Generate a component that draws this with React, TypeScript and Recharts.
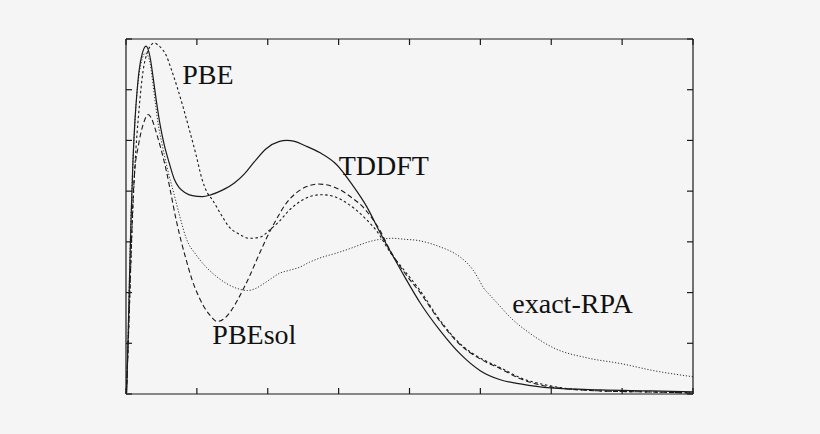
import { LineChart, Line, XAxis, YAxis, ReferenceDot } from "recharts";

// [x, y] pairs, x in 0..8, y in 0..7
const tddft: [number, number][] = [
  [0.007, 0.02], [0.014, 0.26], [0.042, 1.84], [0.071, 3.43], [0.099, 4.62], [0.127, 5.41],
  [0.156, 5.97], [0.184, 6.37], [0.227, 6.7], [0.283, 6.86], [0.34, 6.64], [0.382, 6.25],
  [0.425, 5.81], [0.481, 5.31], [0.538, 4.92], [0.609, 4.56], [0.68, 4.24], [0.75, 4.07],
  [0.835, 3.97], [0.935, 3.91], [1.076, 3.89], [1.204, 3.93], [1.345, 4.01], [1.529, 4.16],
  [1.671, 4.34], [1.812, 4.58], [1.982, 4.84], [2.166, 4.98], [2.266, 5.0], [2.38, 4.98],
  [2.52, 4.9], [2.733, 4.76], [2.973, 4.52], [3.2, 4.11], [3.398, 3.69], [3.582, 3.19],
  [3.766, 2.72], [3.936, 2.3], [4.149, 1.8], [4.432, 1.25], [4.715, 0.79], [4.998, 0.46],
  [5.281, 0.28], [5.565, 0.2], [5.989, 0.12], [6.697, 0.08], [7.405, 0.06], [8.0, 0.04],
];

const pbe: [number, number][] = [
  [0.007, 0.02], [0.042, 1.45], [0.085, 3.23], [0.127, 4.52], [0.184, 5.61], [0.241, 6.37],
  [0.297, 6.72], [0.354, 6.88], [0.396, 6.92], [0.453, 6.88], [0.51, 6.8], [0.566, 6.68],
  [0.637, 6.41], [0.722, 6.05], [0.807, 5.65], [0.892, 5.22], [0.991, 4.7], [1.076, 4.22],
  [1.147, 3.97], [1.218, 3.83], [1.345, 3.53], [1.458, 3.29], [1.6, 3.15], [1.742, 3.07],
  [1.883, 3.09], [2.025, 3.23], [2.166, 3.41], [2.308, 3.63], [2.45, 3.79], [2.591, 3.89],
  [2.761, 3.93], [2.945, 3.89], [3.087, 3.79], [3.228, 3.65], [3.37, 3.47], [3.54, 3.21],
  [3.724, 2.8], [3.936, 2.42], [4.149, 2.04], [4.432, 1.45], [4.715, 0.99], [4.998, 0.71],
  [5.281, 0.52], [5.565, 0.32], [5.989, 0.16], [6.697, 0.06], [7.405, 0.04], [8.0, 0.02],
];

const pbesol: [number, number][] = [
  [0.007, 0.02], [0.042, 1.45], [0.071, 2.74], [0.099, 3.83], [0.127, 4.46], [0.17, 4.86],
  [0.212, 5.16], [0.255, 5.37], [0.312, 5.51], [0.354, 5.45], [0.396, 5.3], [0.439, 5.1],
  [0.496, 4.82], [0.566, 4.42], [0.637, 3.93], [0.708, 3.43], [0.779, 3.01], [0.85, 2.64],
  [0.935, 2.24], [1.034, 1.9], [1.104, 1.71], [1.175, 1.57], [1.289, 1.43], [1.388, 1.49],
  [1.487, 1.65], [1.6, 1.92], [1.742, 2.32], [1.855, 2.68], [1.982, 3.07], [2.124, 3.45],
  [2.265, 3.77], [2.407, 3.97], [2.549, 4.09], [2.704, 4.14], [2.874, 4.11], [3.016, 4.03],
  [3.186, 3.87], [3.342, 3.69], [3.469, 3.47], [3.582, 3.23], [3.724, 2.84], [3.936, 2.38],
  [4.149, 2.0], [4.432, 1.43], [4.715, 0.97], [4.998, 0.69], [5.281, 0.5], [5.565, 0.3],
  [5.989, 0.14], [6.697, 0.06], [7.405, 0.04], [8.0, 0.02],
];

const exactRpa: [number, number][] = [
  [0.007, 0.02], [0.028, 1.05], [0.057, 2.84], [0.085, 4.12], [0.113, 5.02], [0.142, 5.71],
  [0.184, 6.29], [0.227, 6.6], [0.269, 6.72], [0.312, 6.66], [0.34, 6.52], [0.368, 6.25],
  [0.411, 5.77], [0.453, 5.33], [0.51, 4.92], [0.581, 4.46], [0.68, 3.93], [0.765, 3.47],
  [0.85, 3.07], [0.991, 2.74], [1.133, 2.5], [1.274, 2.32], [1.416, 2.18], [1.572, 2.08],
  [1.713, 2.04], [1.827, 2.08], [1.926, 2.16], [2.053, 2.28], [2.166, 2.38], [2.308, 2.44],
  [2.45, 2.5], [2.591, 2.6], [2.733, 2.68], [2.973, 2.78], [3.186, 2.88], [3.398, 2.99],
  [3.582, 3.05], [3.766, 3.07], [3.936, 3.05], [4.106, 3.03], [4.29, 2.97], [4.432, 2.9],
  [4.573, 2.82], [4.715, 2.7], [4.814, 2.58], [4.899, 2.44], [4.97, 2.28], [5.041, 2.1],
  [5.14, 1.94], [5.239, 1.79], [5.423, 1.51], [5.706, 1.19], [6.032, 0.91], [6.513, 0.71],
  [6.98, 0.6], [7.448, 0.46], [8.0, 0.34],
];

const xTicks = [0, 1, 2, 3, 4, 5, 6, 7, 8];
const yTicks = [0, 1, 2, 3, 4, 5, 6, 7];

// curve labels: [text, x, y] with y at the text baseline
const curveLabels: [string, number, number][] = [
  ["PBE", 0.793, 6.11],
  ["TDDFT", 3.0, 4.32],
  ["PBEsol", 1.218, 0.99],
  ["exact-RPA", 5.451, 1.59],
];

const toPoints = (pairs: [number, number][]) => pairs.map(([x, y]) => ({ x, y }));

const ink = "#1a1a1a";

// no tick labels in the reference, only the tick marks
const NoLabel = () => <g />;

export default function App() {
  // mirrored axes: inward ticks on all four sides of the frame
  const axisProps = {
    type: "number" as const,
    mirror: true,
    tick: NoLabel,
    tickSize: 6,
    axisLine: { stroke: ink, strokeWidth: 1.2 },
    tickLine: { stroke: ink, strokeWidth: 1.2 },
  };

  return (
    <div style={{ position: "fixed", left: 0, top: 0, width: 820, height: 434, background: "#f5f5f5" }}>
      <LineChart width={820} height={434} margin={{ top: 39, right: 127, bottom: 40, left: 126 }}>
        <XAxis {...axisProps} xAxisId={0} dataKey="x" domain={[0, 8]} ticks={xTicks} height={1} />
        <XAxis {...axisProps} xAxisId="top" orientation="top" dataKey="x" domain={[0, 8]} ticks={xTicks} height={1} />
        <YAxis {...axisProps} yAxisId={0} domain={[0, 7]} ticks={yTicks} width={1} />
        <YAxis {...axisProps} yAxisId="right" orientation="right" domain={[0, 7]} ticks={yTicks} width={1} />

        <Line data={toPoints(exactRpa)} dataKey="y" type="monotone" stroke="#333" strokeWidth={1}
          strokeDasharray="1.2 1.8" dot={false} isAnimationActive={false} />
        <Line data={toPoints(pbesol)} dataKey="y" type="monotone" stroke={ink} strokeWidth={1.1}
          strokeDasharray="5 3" dot={false} isAnimationActive={false} />
        <Line data={toPoints(pbe)} dataKey="y" type="monotone" stroke={ink} strokeWidth={1.1}
          strokeDasharray="2.5 2.5" dot={false} isAnimationActive={false} />
        {/* same domains on both axis pairs; TDDFT sits on top/right so those axes get their ticks */}
        <Line data={toPoints(tddft)} xAxisId="top" yAxisId="right" dataKey="y" type="monotone"
          stroke={ink} strokeWidth={1.2} dot={false} isAnimationActive={false} />

        {curveLabels.map(([text, x, y]) => (
          <ReferenceDot
            key={text}
            x={x}
            y={y}
            r={0}
            fill="none"
            stroke="none"
            label={(props: any) => (
              <text
                x={props.viewBox?.x ?? 0}
                y={props.viewBox?.y ?? 0}
                fill="#111"
                fontSize={28}
                fontFamily="'Liberation Serif', 'DejaVu Serif', serif"
              >
                {text}
              </text>
            )}
          />
        ))}
      </LineChart>
    </div>
  );
}
